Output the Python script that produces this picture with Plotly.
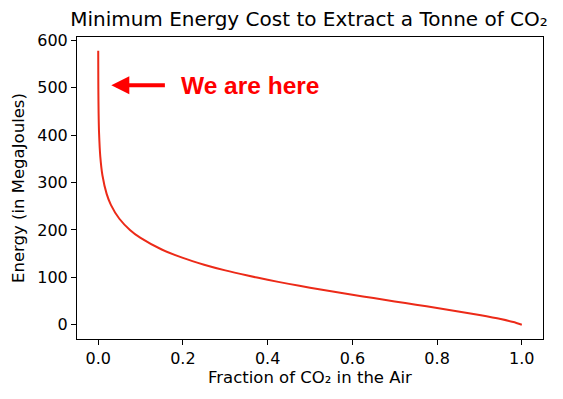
import plotly.graph_objects as go

# Data
fraction_co2 = [0.0001, 0.0002, 0.0004, 0.001, 0.002, 0.005, 0.01, 0.02, 0.03,
                0.05, 0.075, 0.1, 0.15, 0.2, 0.25, 0.3, 0.35, 0.4, 0.45, 0.5,
                0.55, 0.6, 0.65, 0.7, 0.75, 0.8, 0.85, 0.9, 0.95, 0.98, 1.0]
energy_mj = [578.0, 536.0, 497.0, 445.0, 406.0, 354.5, 315.3, 276.0, 252.9,
             223.5, 200.0, 183.0, 158.7, 140.9, 126.6, 114.6, 104.2, 94.7, 86.1, 78.0,
             70.4, 63.2, 56.1, 49.1, 42.2, 35.2, 28.0, 20.3, 11.8, 5.6, 0.0]

x_ticks = [0.0, 0.2, 0.4, 0.6, 0.8, 1.0]
y_ticks = [0, 100, 200, 300, 400, 500, 600]

title_text = "Minimum Energy Cost to Extract a Tonne of CO₂"
x_label = "Fraction of CO₂ in the Air"
y_label = "Energy (in MegaJoules)"
note_text = "We are here"
arrow_tip = (0.031, 505)
arrow_tail = (0.161, 505)
note_pos = (0.19, 505)

font_main = "DejaVu Sans"
OFF = 8  # default page body margin
W, H = 563, 399
L, T = 77 - OFF, 37 - OFF
PW, PH = 466, 302
R, B = W - L - PW, H - T - PH

fig = go.Figure()
fig.add_trace(go.Scatter(
    x=fraction_co2, y=energy_mj, mode="lines",
    line=dict(color="#ec2a18", width=2, shape="spline", smoothing=0.6),
    hoverinfo="skip", showlegend=False,
))

fig.add_annotation(
    x=arrow_tip[0], y=arrow_tip[1], ax=arrow_tail[0], ay=arrow_tail[1],
    xref="x", yref="y", axref="x", ayref="y",
    text="", showarrow=True, arrowhead=2, arrowsize=0.9, arrowwidth=4,
    arrowcolor="#ff0000",
)
fig.add_annotation(
    x=note_pos[0], y=note_pos[1], xref="x", yref="y",
    text="<b>" + note_text + "</b>", showarrow=False,
    xanchor="left", yanchor="middle",
    font=dict(family="Liberation Sans", size=24.5, color="#ff0000"),
)

# axis titles as annotations (paper coords)
fig.add_annotation(
    x=(18 - OFF - L) / PW, y=0.5, xref="paper", yref="paper",
    text=y_label, textangle=-90, showarrow=False,
    xanchor="center", yanchor="middle",
    font=dict(family=font_main, size=16.5, color="black"),
)
fig.add_annotation(
    x=0.5, y=-(378 - OFF - (T + PH)) / PH, xref="paper", yref="paper",
    text=x_label, showarrow=False,
    xanchor="center", yanchor="middle",
    font=dict(family=font_main, size=16.5, color="black"),
)

axis_common = dict(
    showline=True, mirror=True, linecolor="black", linewidth=1,
    ticks="outside", ticklen=5, tickwidth=1, tickcolor="black",
    showgrid=False, zeroline=False, automargin=False,
    tickfont=dict(family=font_main, size=16, color="black"),
)

fig.update_xaxes(range=[-0.05, 1.05], tickvals=x_ticks, tickformat=".1f", **axis_common)
fig.update_yaxes(range=[-30.2, 607], tickvals=y_ticks, **axis_common)

fig.update_layout(
    width=W, height=H, autosize=False,
    margin=dict(l=L, r=R, t=T, b=B),
    paper_bgcolor="white", plot_bgcolor="white",
    title=dict(text=title_text, x=(309 - OFF) / W, xanchor="center",
               y=1 - (19 - OFF) / H, yanchor="middle",
               font=dict(family=font_main, size=20, color="black")),
)

fig.write_html("out.html")
